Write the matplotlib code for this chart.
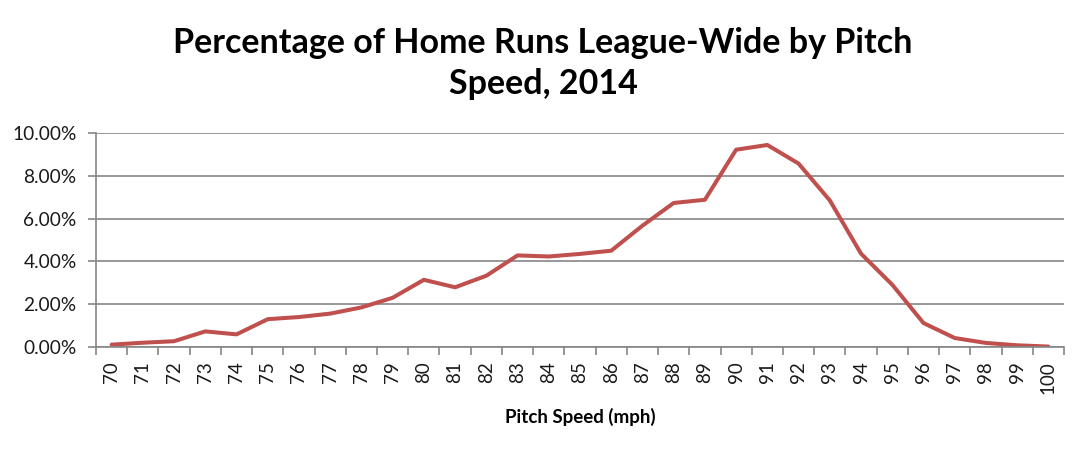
import matplotlib
matplotlib.use("Agg")
import matplotlib.pyplot as plt
import numpy as np

speeds = list(range(70, 101))
pct = [0.11, 0.20, 0.27, 0.73, 0.59, 1.30, 1.40, 1.56, 1.85, 2.30,
       3.14, 2.79, 3.33, 4.28, 4.23, 4.35, 4.50, 5.67, 6.73, 6.88,
       9.22, 9.44, 8.57, 6.85, 4.36, 2.91, 1.12, 0.42, 0.19, 0.08, 0.02]
yticks = [0, 2, 4, 6, 8, 10]

plt.rcParams['font.family'] = ['Lato', 'DejaVu Sans']
fig = plt.figure(figsize=(10.87, 4.49), dpi=100)
ax = fig.add_axes([96/1087, 1-347/449, (1064-96)/1087, (347-133)/449])

x = np.arange(len(speeds))
ax.plot(x, pct, color='#C0504D', lw=2.9, solid_joinstyle='round', solid_capstyle='round')
ax.set_xlim(-0.5, len(speeds)-0.5)
ax.set_ylim(0, 10)
ax.set_yticks(yticks)
ax.set_yticklabels([f"{v:.2f}%" for v in yticks], fontsize=13.8, color='#1a1a1a')
ax.yaxis.grid(True, color='#868686', lw=1.2)
ax.set_axisbelow(True)

ax.set_xticks(x)
ax.set_xticklabels([str(s) for s in speeds], rotation=90, fontsize=13.5, color='#1a1a1a')
ax.tick_params(axis='x', length=0, pad=10)
ax.set_xticks(np.arange(-0.5, len(speeds)), minor=True)
ax.tick_params(axis='x', which='minor', length=6, color='#868686', width=1.2)
ax.tick_params(axis='y', length=6, color='#868686', width=1.2, pad=8)

for s in ['top', 'right']:
    ax.spines[s].set_visible(False)
for s in ['left', 'bottom']:
    ax.spines[s].set_color('#868686')
    ax.spines[s].set_linewidth(1.2)

ax.set_xlabel('Pitch Speed (mph)', fontsize=13.5, fontweight='bold', labelpad=10)
fig.suptitle('Percentage of Home Runs League-Wide by Pitch\nSpeed, 2014',
             fontsize=24.5, fontweight='bold', y=0.94, x=543/1087, linespacing=1.35)

fig.savefig('out.png', dpi=100, facecolor='white')
